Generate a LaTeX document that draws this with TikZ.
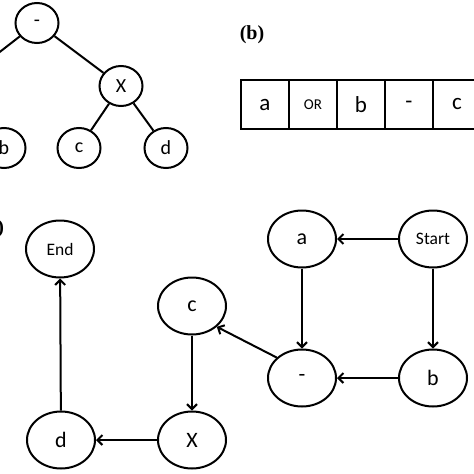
\documentclass[tikz,border=0pt]{standalone}
\usepackage{fontspec}
\setmainfont{Carlito}
\newfontfamily\lblfont{Liberation Serif}
\usetikzlibrary{shapes.geometric,arrows.meta}
\begin{document}
\begin{tikzpicture}[x=1pt,y=-1pt, line width=2pt,
 tnode/.style={draw, ellipse, minimum width=43pt, minimum height=40pt, inner sep=0pt, font=\fontsize{20}{20}\selectfont},
 gnode/.style={draw, ellipse, minimum width=68pt, minimum height=57pt, inner sep=0pt, font=\fontsize{22}{22}\selectfont},
 gword/.style={gnode, font=\fontsize{17.5}{17.5}\selectfont},
 cell/.style={draw, rectangle, minimum width=48pt, minimum height=49pt, inner sep=0pt, font=\fontsize{23}{23}\selectfont},
 small/.style={font=\fontsize{15}{15}\selectfont},
 arr/.style={-{Straight Barb[length=5pt,width=10pt]}},
 plab/.style={font=\lblfont\bfseries\fontsize{20}{20}\selectfont, inner sep=0pt},
 ]
\useasboundingbox (0,0) rectangle (474,474);
\clip (0,0) rectangle (474,474);
\fill[white] (0,0) rectangle (474,474);

% (a) tree
\node[tnode] (tm) at (37,23) {-};
\node[tnode] (tx) at (121,86) {X};
\node[tnode] (tb) at (4,148) {b};
\node[tnode] (tc) at (79,148) {c};
\node[tnode] (td) at (166,148) {d};
\coordinate (tor) at (-44,86);
\coordinate (torb) at (-30,100);
\draw (tm) -- (tx);
\draw (tm) -- (tor);
\draw (torb) -- (tb);
\draw (tx) -- (tc);
\draw (tx) -- (td);

% (b) array
\node[plab] (lb) at (252,35) {(b)};
\node[cell] (c1) at (265,104.5) {a};
\node[cell, small] (c2) at (313,104.5) {OR};
\node[cell] (c3) at (361,104.5) {b};
\node[cell] (c4) at (409,104.5) {-};
\node[cell] (c5) at (457,104.5) {c};

% (c) graph
\node[plab] (lc) at (-7,229) {(c)};
\node[gword] (gend) at (60,249) {End};
\node[gnode] (gc) at (192,306) {c};
\node[gnode] (gd) at (61,440) {d};
\node[gnode] (gx) at (192,440) {X};
\node[gnode] (ga) at (302,239) {a};
\node[gword] (gs) at (433,239) {Start};
\node[gnode] (gm) at (302,378) {-};
\node[gnode] (gb) at (433,378) {b};

\draw[arr] (gs) -- (ga);
\draw[arr] (gs) -- (gb);
\draw[arr] (ga) -- (gm);
\draw[arr] (gb) -- (gm);
\draw[arr] (gm.141) -- (gc.-40);
\draw[arr] (gc) -- (gx);
\draw[arr] (gx) -- (gd);
\draw[arr] (gd) -- (gend);
\end{tikzpicture}
\end{document}
